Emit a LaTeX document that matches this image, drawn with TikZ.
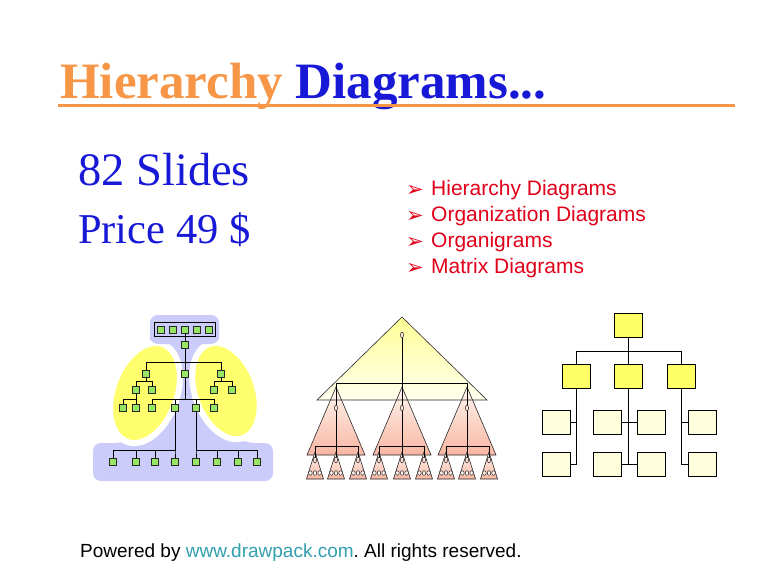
\documentclass[tikz,border=0pt]{standalone}
\usepackage{fontspec}
\usetikzlibrary{shapes.geometric}
\newfontfamily\serifTNR{Liberation Serif}
\newfontfamily\sansArial{Liberation Sans}
\newfontfamily\symfont{DejaVu Sans}
\frenchspacing
\definecolor{torange}{RGB}{247,150,70}
\definecolor{tblue}{RGB}{24,24,215}
\definecolor{bred}{RGB}{225,0,25}
\definecolor{lteal}{RGB}{50,160,175}
\definecolor{lav}{RGB}{204,204,250}
\definecolor{ell}{RGB}{255,255,110}
\definecolor{gsq}{RGB}{150,230,100}
\definecolor{ybox}{RGB}{255,255,102}
\definecolor{cbox}{RGB}{255,255,222}
\definecolor{ytop}{RGB}{255,255,150}
\definecolor{ybot}{RGB}{255,255,238}
\definecolor{ptop}{RGB}{255,246,240}
\definecolor{pbot}{RGB}{247,182,162}
\definecolor{dk}{RGB}{40,40,40}
\begin{document}
\begin{tikzpicture}[x=1pt,y=-1pt,
  gbox/.style={rectangle,draw=dk,fill=gsq,minimum size=7pt,inner sep=0pt,line width=0.6pt},
  ln/.style={draw=black,line width=0.9pt},
  ybx/.style={rectangle,draw=black,fill=ybox,minimum width=28pt,minimum height=24pt,inner sep=0pt,line width=0.8pt},
  cbx/.style={rectangle,draw=black,fill=cbox,minimum width=28pt,minimum height=24pt,inner sep=0pt,line width=0.8pt},
  bdot/.style={ellipse,draw=dk,fill=ptop!70!pbot,inner sep=0pt,minimum width=3.2pt,minimum height=5.8pt,line width=0.5pt},
  odot/.style={ellipse,draw=dk,fill=ptop,inner sep=0pt,minimum width=3.6pt,minimum height=4.6pt,line width=0.5pt},
  tri/.style={draw=dk,line width=0.6pt},
  bul/.style={anchor=base west,inner sep=0pt,text=bred},
  txt/.style={anchor=base west,inner sep=0pt}]
\useasboundingbox (0,0) rectangle (768,576);
\fill[white] (0,0) rectangle (768,576);

% ---------- title ----------
\node[txt] (title) at (60,98) {\serifTNR\bfseries\fontsize{51}{60}\selectfont\textcolor{torange}{Hierarchy} \textcolor{tblue}{Diagrams...}};
\draw[torange,line width=3pt] (58,105) -- (735,105);

\node[txt,text=tblue] (slides) at (78,185) {\serifTNR\fontsize{46.5}{52}\selectfont 82 Slides};
\node[txt,text=tblue] (price) at (78,243) {\serifTNR\fontsize{42.5}{50}\selectfont Price 49 \$};

% ---------- bullets ----------
\foreach \t [count=\i] in {Hierarchy Diagrams,Organization Diagrams,Organigrams,Matrix Diagrams}{
  \node[bul] (ba\i) at (406,{170+26*\i}) {\symfont\fontsize{21}{24}\selectfont ➢};
  \node[bul] (bt\i) at (431,{169+26*\i}) {\sansArial\fontsize{21}{24}\selectfont \t};
}

% ---------- footer ----------
\node[txt] (footer) at (80,557) {\sansArial\fontsize{19}{22}\selectfont Powered by \textcolor{lteal}{www.drawpack.com}. All rights reserved.};

% ========== diagram 1 ==========
\fill[lav,rounded corners=8pt] (93,443) rectangle (273,481);
\fill[lav,rounded corners=8pt] (150,315) rectangle (219,346);
\fill[lav] (150,336) .. controls (150,350) and (174,346) .. (174,365)
  .. controls (174,390) and (172,402) .. (168,412)
  .. controls (160,432) and (140,440) .. (110,444) -- (260,444)
  .. controls (230,440) and (210,432) .. (202,412)
  .. controls (198,402) and (196,390) .. (196,365)
  .. controls (196,346) and (219,350) .. (219,336) -- cycle;
\begin{scope}[shift={(145,393)},rotate=-20]
  \filldraw[fill=ell,draw=white,line width=6pt] (0,0) ellipse [x radius=32,y radius=52];
\end{scope}
\begin{scope}[shift={(226,391)},rotate=20]
  \filldraw[fill=ell,draw=white,line width=6pt] (0,0) ellipse [x radius=31,y radius=50];
\end{scope}
\fill[lav,rounded corners=8pt] (150,315) rectangle (219,344);

\node[rectangle,draw=black,line width=0.9pt,minimum width=61pt,minimum height=14pt,inner sep=0pt] (frame) at (185,329.5) {};
\foreach \x [count=\i] in {161,173,185,197,209}{\node[gbox] (f\i) at (\x,329.5) {};}
\node[gbox] (n0) at (185,345) {};
\node[gbox] (n1a) at (146,374) {};
\node[gbox] (n1b) at (185,374) {};
\node[gbox] (n1c) at (221,374) {};
\node[gbox] (n2a) at (136,390) {};
\node[gbox] (n2b) at (152,390) {};
\node[gbox] (n2c) at (214,390) {};
\node[gbox] (n2d) at (232,390) {};
\node[gbox] (n3a) at (123,408) {};
\node[gbox] (n3b) at (136,408) {};
\node[gbox] (m1) at (152,408) {};
\node[gbox] (m2) at (175,408) {};
\node[gbox] (m3) at (196,408) {};
\node[gbox] (m4) at (214,408) {};
\foreach \x [count=\i] in {113,136,155,175,196,217,238,257}{\node[gbox] (b\i) at (\x,462) {};}

\draw[ln] (f3.south) -- (n0.north);
\draw[ln] (n0.south) -- (n1b.north);
\draw[ln] (n0.south) |- (n1a |- 0,362) -- (n1a.north);
\draw[ln] (n0.south) |- (n1c |- 0,362) -- (n1c.north);
\draw[ln] (n1a.south) |- (n2a |- 0,381) -- (n2a.north);
\draw[ln] (n1a.south) |- (n2b |- 0,381) -- (n2b.north);
\draw[ln] (n2a.south) -- (n3b.north);
\draw[ln] (n2a.south) |- (n3a |- 0,399) -- (n3a.north);
\draw[ln] (n1c.south) |- (n2c |- 0,381) -- (n2c.north);
\draw[ln] (n1c.south) |- (n2d |- 0,381) -- (n2d.north);
\foreach \c in {m1,m2,m3,m4}{\draw[ln] (n1b.south) |- (\c |- 0,399) -- (\c.north);}
\foreach \c in {b1,b2,b3,b4}{\draw[ln] (m2.south) |- (\c |- 0,450) -- (\c.north);}
\foreach \c in {b5,b6,b7,b8}{\draw[ln] (m3.south) |- (\c |- 0,450) -- (\c.north);}

% ========== diagram 2 ==========
\shade[top color=ytop,bottom color=ybot] (402,317) -- (487,400) -- (317,400) -- cycle;
\foreach \x in {336,402,467}{
  \shadedraw[tri,top color=ptop,bottom color=pbot] (\x,387) -- (\x+29,455) -- (\x-29,455) -- cycle;
}
\draw[tri] (402,317) -- (487,400) -- (317,400) -- cycle;
\foreach \x [count=\i] in {315,336,358,379,402,424,446,467,489}{
  \shadedraw[tri,top color=ptop,bottom color=pbot] (\x,452) -- (\x+8.5,479) -- (\x-8.5,479) -- cycle;
}
\node[bdot] (d0) at (402,335) {};
\node[bdot] (p1) at (336,408) {};
\node[bdot] (p2) at (402,408) {};
\node[bdot] (p3) at (467,408) {};
\foreach \x [count=\i] in {315,336,358,379,402,424,446,467,489}{
  \node[bdot] (s\i) at (\x,460) {};
  \node[odot] (s\i a) at (\x-4.6,473) {};
  \node[odot] (s\i b) at (\x,473) {};
  \node[odot] (s\i c) at (\x+4.6,473) {};
}
\draw[ln] (d0.south) -- (p2.north);
\draw[ln] (d0.south) |- (p1 |- 0,383) -- (p1.north);
\draw[ln] (d0.south) |- (p3 |- 0,383) -- (p3.north);
\foreach \p/\a/\b/\c in {p1/s1/s2/s3,p2/s4/s5/s6,p3/s7/s8/s9}{
  \draw[ln] (\p.south) -- (\b.north);
  \draw[ln] (\p.south) |- (\a |- 0,446) -- (\a.north);
  \draw[ln] (\p.south) |- (\c |- 0,446) -- (\c.north);
}

% ========== diagram 3 ==========
\node[ybx] (top) at (628,325) {};
\node[ybx] (q1) at (576.5,376) {};
\node[ybx] (q2) at (628,376) {};
\node[ybx] (q3) at (681.5,376) {};
\node[cbx] (l1) at (556,422) {};
\node[cbx] (l2) at (556,464.5) {};
\node[cbx] (c1) at (607.5,422) {};
\node[cbx] (c2) at (651,422) {};
\node[cbx] (c3) at (607.5,464.5) {};
\node[cbx] (c4) at (651,464.5) {};
\node[cbx] (r1) at (702.5,422) {};
\node[cbx] (r2) at (702.5,464.5) {};
\draw[ln] (top.south) -- (q2.north);
\draw[ln] (top.south) |- (q1 |- 0,351) -- (q1.north);
\draw[ln] (top.south) |- (q3 |- 0,351) -- (q3.north);
\draw[ln] (q1.south) |- (l2.east);
\draw[ln] (l1.east) -- (l1.east -| q1.south);
\draw[ln] (q2.south) -- (q2 |- c3.east);
\draw[ln] (c1.east) -- (c2.west);
\draw[ln] (c3.east) -- (c4.west);
\draw[ln] (q3.south) |- (r2.west);
\draw[ln] (r1.west) -- (r1.west -| q3.south);
\end{tikzpicture}
\end{document}
